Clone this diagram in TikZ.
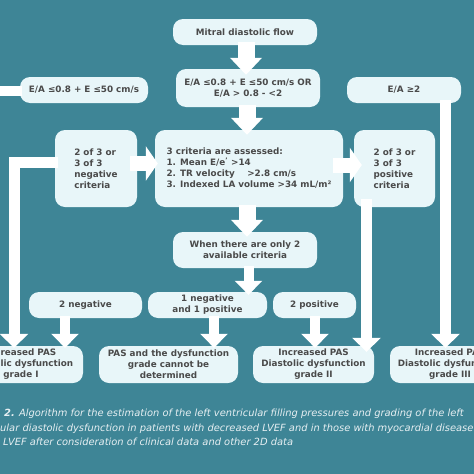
\documentclass[tikz,border=0pt]{standalone}
\usepackage{fontspec}
\setmainfont{DejaVu Sans}
\usetikzlibrary{arrows.meta,calc}
\definecolor{bgteal}{HTML}{3E8596}
\definecolor{boxfill}{HTML}{E8F6F9}
\definecolor{boxtext}{HTML}{4A4A4A}
\definecolor{captext}{HTML}{E6EFF2}
\tikzset{
  box/.style={rounded corners=10pt, fill=boxfill, text=boxtext, inner sep=0pt,
    font=\bfseries\fontsize{8.8}{11}\selectfont, align=center},
  bigarrow/.style={draw=white, line width=17pt, -{Triangle[width=31pt,length=17pt]}},
  smallarrow/.style={draw=white, line width=10pt, -{Triangle[width=27pt,length=14pt]}},
  longarrow/.style={draw=white, line width=11pt, line join=miter, -{Triangle[width=28pt,length=14pt]}},
  sidearrow/.style={draw=white, line width=15pt, -{Triangle[width=34pt,length=12pt]}},
  plainbar/.style={draw=white, line width=10pt},
  caption/.style={text=captext, inner sep=0pt, anchor=base west,
    font=\itshape\fontsize{9.9}{11}\selectfont},
}
\begin{document}
\begin{tikzpicture}[x=1pt,y=-1pt]
\useasboundingbox (0,0) rectangle (474,474);
\fill[bgteal] (0,0) rectangle (474,474);
\clip (0,0) rectangle (474,474);
% boxes
\node[box, minimum width=144pt, minimum height=26pt] (mitral) at (245,32) {Mitral diastolic flow};
\node[box, minimum width=144pt, minimum height=38pt] (ea) at (248,88) {E/A ≤0.8 + E ≤50 cm/s OR\\E/A > 0.8 - <2};
\node[box, minimum width=128pt, minimum height=26pt] (eaL) at (84,90) {E/A ≤0.8 + E ≤50 cm/s};
\node[box, minimum width=114pt, minimum height=26pt] (eaR) at (404,90) {E/A ≥2};
\node[box, align=left, minimum width=82pt, minimum height=77pt] (neg) at (96,168.5) {2 of 3 or\\3 of 3\\negative\\criteria};
\node[box, align=left, minimum width=188pt, minimum height=77pt] (crit) at (249,168.5) {3 criteria are assessed:\\1. Mean E/e\textsuperscript{'} >14\\2. TR velocity\hspace{1.4em}>2.8 cm/s\\3. Indexed LA volume >34 mL/m²};
\node[box, align=left, minimum width=81pt, minimum height=77pt] (pos) at (394.5,168.5) {2 of 3 or\\3 of 3\\positive\\criteria};
\node[box, minimum width=144pt, minimum height=36pt] (when) at (245,250) {When there are only 2\\available criteria};
\node[box, minimum width=113pt, minimum height=26pt] (twoneg) at (85.5,305) {2 negative};
\node[box, minimum width=119pt, minimum height=26pt] (onepos) at (207.5,305) {1 negative\\and 1 positive};
\node[box, minimum width=83pt, minimum height=26pt] (twopos) at (314.5,305) {2 positive};
\node[box, minimum width=124pt, minimum height=37pt] (g1) at (21,364.5) {Increased PAS\\Diastolic dysfunction\\grade I};
\node[box, minimum width=139pt, minimum height=37pt] (pasnd) at (168.5,364.5) {PAS and the dysfunction\\grade cannot be\\determined};
\node[box, minimum width=121pt, minimum height=37pt] (g2) at (313.5,364.5) {Increased PAS\\Diastolic dysfunction\\grade II};
\node[box, minimum width=120pt, minimum height=37pt] (g3) at (450,364.5) {Increased PAS\\Diastolic dysfunction\\grade III};
\coordinate (offL) at (-20,91);
% arrows
\draw[bigarrow] ($(mitral.south)+(1,-3)$) -- ($(mitral.south |- ea.north)+(1,6)$);
\draw[bigarrow] ($(ea.south)+(-1,-2)$) -- ($(ea.south |- crit.north)+(-1,5)$);
\draw[bigarrow] ($(crit.south)+(-2,-2)$) -- ($(crit.south |- when.north)+(-2,5)$);
\draw[smallarrow] ($(when.south)+(3.5,-2)$) -- ($(when.south |- onepos.north)+(3.5,3)$);
\draw[smallarrow] ($(twoneg.south)+(-20.5,-2)$) -- ($(twoneg.south |- g1.north)+(-20.5,2)$);
\draw[smallarrow] ($(onepos.south)+(6.5,-2)$) -- ($(onepos.south |- pasnd.north)+(6.5,2)$);
\draw[smallarrow] ($(twopos.south)+(0.5,-2)$) -- ($(twopos.south |- g2.north)+(0.5,2)$);
\draw[longarrow] ($(neg.west)+(3,-6.5)$) -| ($(g1.north)+(-7,2)$);
\draw[longarrow] ($(pos.south)+(-28,-8)$) -- ($(pos.south |- g2.north)+(-28,6)$);
\draw[longarrow] ($(eaR.south)+(41.5,-3)$) -- ($(eaR.south |- g3.north)+(41.5,2)$);
\draw[plainbar] ($(eaL.west)+(2,1)$) -- (offL);
\draw[sidearrow] ($(neg.east)+(-7,-5)$) -- ($(neg.east -| crit.west)+(3,-5)$);
\draw[sidearrow] ($(crit.east)+(-10,-3.5)$) -- ($(crit.east -| pos.west)+(8,-3.5)$);
% caption
\node[caption] (cap1) at (4,416) {\textbf{2.} Algorithm for the estimation of the left ventricular filling pressures and grading of the left};
\node[caption] (cap2) at (0,431) {ular diastolic dysfunction in patients with decreased LVEF and in those with myocardial disease};
\node[caption] (cap3) at (3,445) {LVEF after consideration of clinical data and other 2D data};
\end{tikzpicture}
\end{document}
